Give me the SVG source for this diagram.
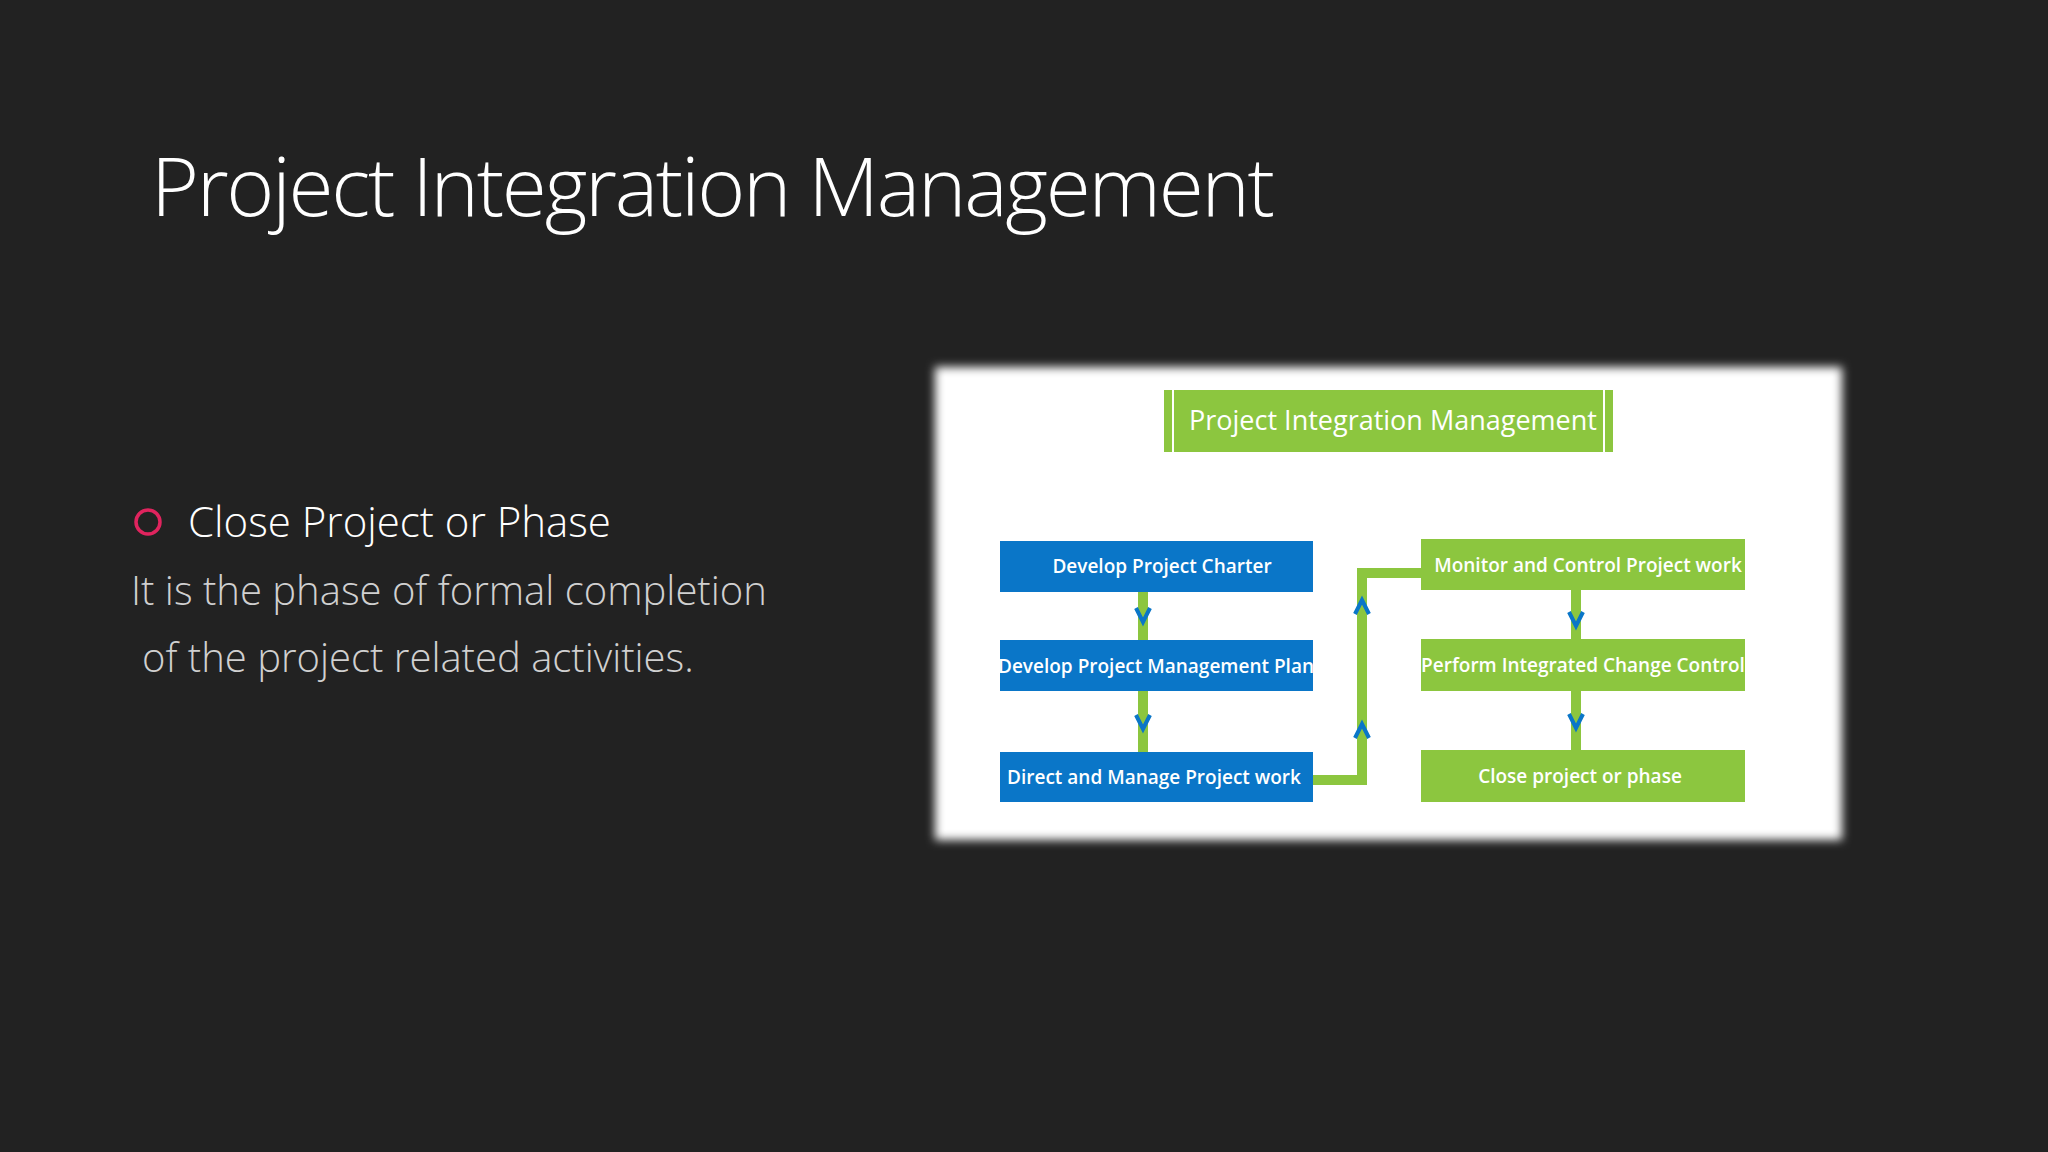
<svg xmlns="http://www.w3.org/2000/svg" width="2048" height="1152" viewBox="0 0 2048 1152">
<defs>
<filter id="blur" x="-5%" y="-5%" width="110%" height="110%"><feGaussianBlur stdDeviation="5"/></filter>
<marker id="ch" viewBox="0 0 10 10" refX="5" refY="5" markerWidth="10" markerHeight="10" markerUnits="userSpaceOnUse" orient="auto"/>
</defs>
<style>
.t{font-family:"Open Sans","Noto Sans",sans-serif;font-weight:300;fill:#fff}
.bx{font-family:"Open Sans",sans-serif;font-weight:600;font-size:19px;fill:#fff;text-anchor:middle}
.blue{fill:#0a76c8}
.green{fill:#8cc63f}
.ln{stroke:#8cc63f;stroke-width:10;fill:none}
.ar{stroke:#0a76c8;stroke-width:4;fill:none}
</style>
<rect width="2048" height="1152" fill="#222222"/>
<text class="t" x="151" y="216" font-size="82" textLength="1124">Project Integration Management</text>
<circle cx="148" cy="522" r="12" fill="none" stroke="#e0245e" stroke-width="3.5"/>
<text class="t" x="188" y="537" font-size="42">Close Project or Phase</text>
<text class="t" x="131" y="605" font-size="40" fill="#d0d0d0" style="fill:#d0d0d0">It is the phase of formal completion</text>
<text class="t" x="142" y="672" font-size="40" style="fill:#d0d0d0">of the project related activities.</text>
<rect x="935" y="367" width="907" height="473" fill="#fff" filter="url(#blur)"/>
<g id="header"><rect class="green" x="1164" y="390" width="449" height="62"/>
<line x1="1173" y1="390" x2="1173" y2="452" stroke="#fff" stroke-width="2"/><line x1="1604" y1="390" x2="1604" y2="452" stroke="#fff" stroke-width="2"/>
<text class="bx" x="1393" y="430" font-size="26" style="font-size:27px;font-weight:400">Project Integration Management</text></g>
<g id="connectors">
<line class="ln" x1="1143" y1="592" x2="1143" y2="640"/>
<line class="ln" x1="1143" y1="691" x2="1143" y2="752"/>
<line class="ln" x1="1576" y1="590" x2="1576" y2="639"/>
<line class="ln" x1="1576" y1="691" x2="1576" y2="750"/>
<polyline class="ln" points="1313,780 1362,780 1362,573 1421,573"/>
<polyline class="ar" points="1136,608 1143,622 1150,608"/>
<polyline class="ar" points="1136,715 1143,729 1150,715"/>
<polyline class="ar" points="1569,612 1576,626 1583,612"/>
<polyline class="ar" points="1569,714 1576,728 1583,714"/>
<polyline class="ar" points="1355,614 1362,600 1369,614"/>
<polyline class="ar" points="1355,738 1362,724 1369,738"/>
</g>
<g id="n1"><rect class="blue" x="1000" y="541" width="313" height="51"/><text class="bx" x="1162" y="573">Develop Project Charter</text></g>
<g id="n2"><rect class="blue" x="1000" y="640" width="313" height="51"/><text class="bx" x="1156" y="673">Develop Project Management Plan</text></g>
<g id="n3"><rect class="blue" x="1000" y="752" width="313" height="50"/><text class="bx" x="1154" y="784">Direct and Manage Project work</text></g>
<g id="n4"><rect class="green" x="1421" y="539" width="324" height="51"/><text class="bx" x="1588" y="572">Monitor and Control Project work</text></g>
<g id="n5"><rect class="green" x="1421" y="639" width="324" height="52"/><text class="bx" x="1583" y="672">Perform Integrated Change Control</text></g>
<g id="n6"><rect class="green" x="1421" y="750" width="324" height="52"/><text class="bx" x="1580" y="783">Close project or phase</text></g>
</svg>
